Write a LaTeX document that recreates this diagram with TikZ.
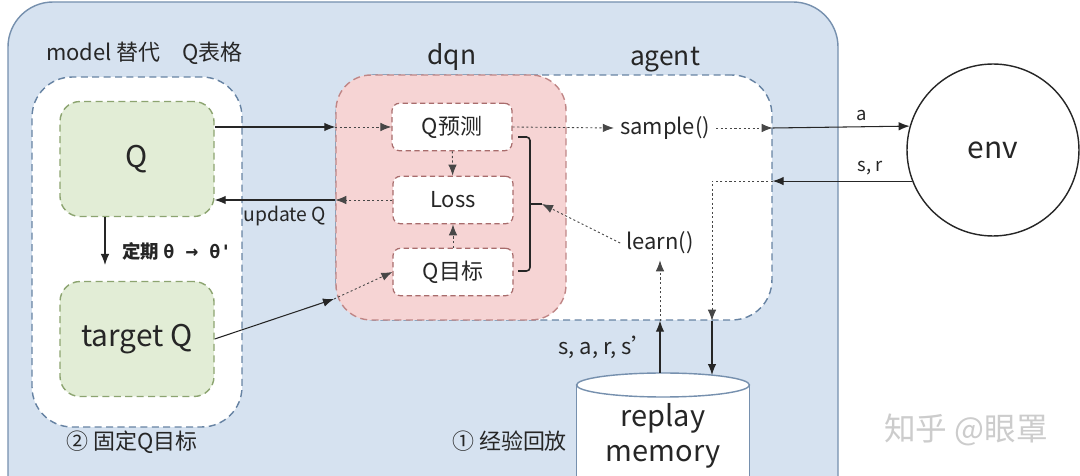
\documentclass[tikz,border=0pt]{standalone}
\usepackage{fontspec}
\setmainfont{Noto Sans CJK SC}
\newfontfamily\thetamono{DejaVu Sans Mono}
\usetikzlibrary{arrows.meta,positioning}
\definecolor{PanelBlue}{HTML}{D6E2F0}
\definecolor{PanelLine}{HTML}{7690AE}
\definecolor{GroupLine}{HTML}{6783A3}
\definecolor{NetFill}{HTML}{E2EDD6}
\definecolor{NetLine}{HTML}{8CA470}
\definecolor{DqnFill}{HTML}{F6D4D4}
\definecolor{DqnLine}{HTML}{C08686}
\definecolor{StepLine}{HTML}{A86C6C}
\definecolor{Ink}{HTML}{262626}

\begin{document}
\begin{tikzpicture}[x=0.02cm, y=-0.02cm,
  every node/.style={font=\fontsize{12.5}{15}\selectfont, text=Ink},
  grpbox/.style={draw=GroupLine, line width=.8pt, dash pattern=on 4pt off 2.5pt, fill=white, rounded corners=0.8cm},
  netbox/.style={draw=NetLine, line width=.8pt, dash pattern=on 4pt off 2.5pt, fill=NetFill, rounded corners=0.4cm,
    minimum width=3.08cm, minimum height=2.3cm, font=\fontsize{17}{20}\selectfont},
  dqnbox/.style={draw=DqnLine, line width=.8pt, dash pattern=on 4pt off 2.5pt, fill=DqnFill, rounded corners=0.7cm,
    minimum width=4.6cm, minimum height=4.9cm},
  stepbox/.style={draw=StepLine, line width=.7pt, dash pattern=on 3pt off 2pt, fill=white, rounded corners=0.15cm,
    minimum width=2.4cm, minimum height=0.95cm},
  solidarr/.style={-{Latex[length=2.2mm,width=1.7mm]}, draw=Ink, line width=.6pt},
  dotarr/.style={-{Latex[length=2.2mm,width=1.7mm]}, draw=Ink!85, line width=.5pt, dash pattern=on 1.2pt off 1.4pt}]
\useasboundingbox (0,0) rectangle (1080,476);
\clip (0,0) rectangle (1080,476);
\fill[white] (0,0) rectangle (1080,476);
\draw[PanelLine, fill=PanelBlue, line width=.8pt, rounded corners=0.9cm] (8,2) rectangle (838,540);

% model / Q table
\node[grpbox, minimum width=4.2cm, minimum height=7cm] (qtable) at (137,252) {};
\node[anchor=west] (qtablelbl) at (40,53) {model 替代\quad Q表格};
\node[netbox] (qnet) at (137,159) {Q};
\node[netbox] (tnet) at (137,339) {target Q};
\node[anchor=west] (fixlbl) at (60,442) {② 固定Q目标};

% agent, dqn
\node[grpbox, minimum width=8.72cm, minimum height=4.9cm] (agent) at (554,197.5) {};
\node[dqnbox] (dqn) at (451,197.5) {};
\node[font=\fontsize{15}{18}\selectfont] (dqnlbl) at (452,57) {dqn};
\node[font=\fontsize{15}{18}\selectfont] (agentlbl) at (665,60) {agent};
\node[stepbox] (pred) at (452,127) {Q预测};
\node[stepbox] (loss) at (453,200) {Loss};
\node[stepbox] (tgt) at (453,272) {Q目标};
\node (sample) at (665,128) {sample()};
\node (learn) at (660,243) {learn()};
\draw[Ink, line width=.9pt, rounded corners=2pt] (518,137) -- (530,137) -- (530,271) -- (518,271);
\coordinate (bracetip) at (542,204);
\draw[Ink, line width=.9pt] (530,204) -- (bracetip);

% env and replay memory
\node[circle, draw=Ink, line width=.8pt, minimum size=3.44cm, font=\fontsize{17}{20}\selectfont] (env) at (993,150) {env};
\fill[white] (576.5,385) rectangle (749.5,500);
\draw[PanelLine, line width=.8pt] (576.5,500) -- (576.5,385);
\draw[PanelLine, line width=.8pt] (749.5,385) -- (749.5,500);
\draw[PanelLine, line width=.8pt, fill=white] (663,385) ellipse [x radius=1.73cm, y radius=0.24cm];
\node[align=center, font=\fontsize{16.5}{20}\selectfont] (memory) at (663,436) {replay\\memory};
\coordinate (memout) at (660,373);
\coordinate (memin) at (712,375);
\node[anchor=west] (replaylbl) at (446,441) {① 经验回放};

% connectors
\draw[solidarr] (qnet.east |- pred.west) -- (dqn.west |- pred.west);
\draw[dotarr] (dqn.west |- pred.west) -- (pred.west);
\draw[dotarr] (loss.west) -- (dqn.west |- loss.west);
\draw[solidarr] (dqn.west |- loss.west) -- node[below, pos=.42, font=\fontsize{11}{13}\selectfont] {update Q} (qnet.east |- loss.west);
\draw[solidarr, shorten >=9pt] ([xshift=-0.64cm]qnet.south) -- ([xshift=-0.64cm]tnet.north);
\node[anchor=west, font=\fontsize{10.5}{12}\selectfont\bfseries] (synclbl) at (116,251) {定期 {\thetamono θ \fontsize{12}{12}\selectfont→\fontsize{10.5}{12}\selectfont{} θ'}};
\coordinate (dqnin) at (334,299);
\draw[solidarr] (tnet.east) -- (dqnin);
\draw[dotarr] (dqnin) -- (tgt.west);
\draw[dotarr] (pred) -- (loss);
\draw[dotarr] (tgt) -- (loss);
\draw[dotarr] (learn.west) -- (bracetip);
\draw[dotarr] (pred.east) -- (sample.west);
\draw[dotarr] (sample.east) -- (agent.east |- sample);
\draw[solidarr] (agent.east |- sample) -- node[above, pos=.65, font=\fontsize{10.5}{12}\selectfont] {a} (env.164);
\draw[solidarr] (env.201) -- node[above, pos=.3, font=\fontsize{10.5}{12}\selectfont] {s, r} (agent.east |- env.201);
\draw[dotarr] (agent.east |- env.201) -| (agent.south -| memin);
\draw[solidarr] (agent.south -| memin) -- (memin);
\draw[solidarr] (memout) -- node[left] {s, a, r, s'} (agent.south -| memout);
\draw[dotarr] (agent.south -| memout) -- (learn.south);

\node[text=gray!40, font=\fontsize{18}{22}\selectfont] (mark) at (966,430) {知乎 @眼罩};
\end{tikzpicture}
\end{document}
